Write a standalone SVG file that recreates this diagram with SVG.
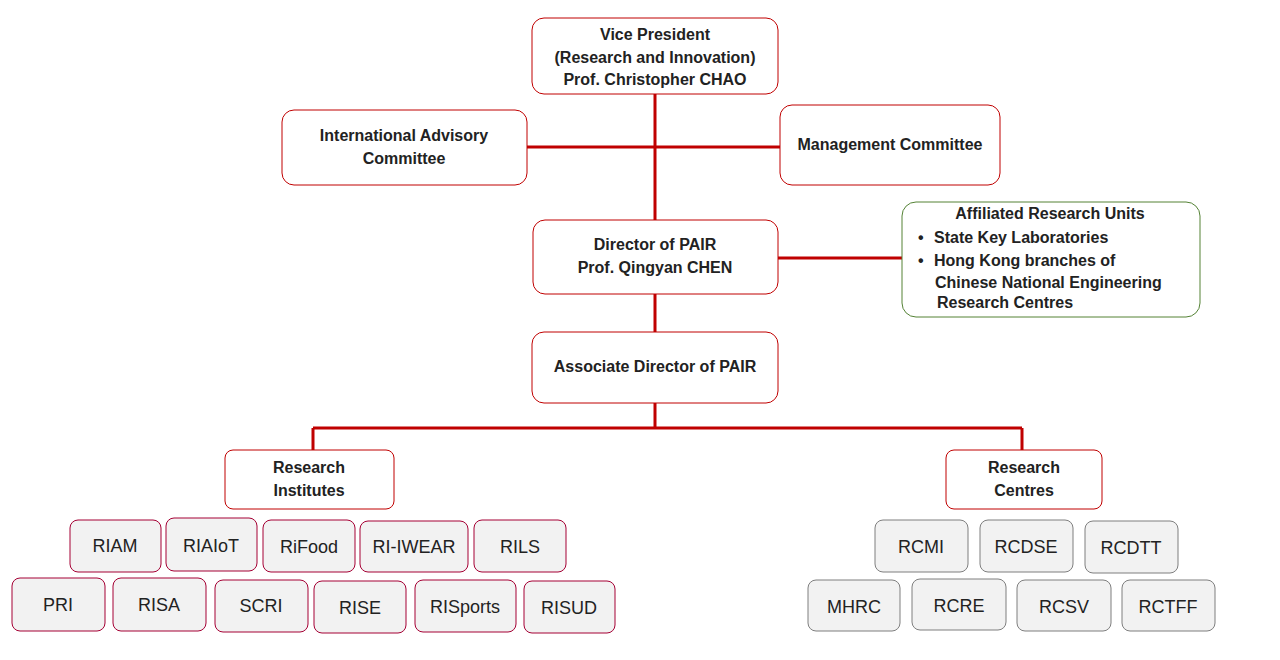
<svg xmlns="http://www.w3.org/2000/svg" width="1280" height="660" viewBox="0 0 1280 660">
<style>
text{font-family:"Liberation Sans",Arial,sans-serif;font-size:16px;fill:#222;text-anchor:middle}
.b{font-weight:bold}
.m{fill:#fff;stroke:#c00000;stroke-width:1}
.g{fill:#fff;stroke:#548235;stroke-width:1}
.ri{fill:#f2f2f2;stroke:#a50034;stroke-width:1}
.rc{fill:#f2f2f2;stroke:#7f7f7f;stroke-width:1}
.u{font-size:18px}
.l{text-anchor:start}
</style>
<rect width="1280" height="660" fill="#fff"/>
<g id="connectors" stroke="#c00000" stroke-width="3" fill="none">
<path d="M655 94V332M527 147H780M778 258H902M655 403V428M313 428H1022M313 428V450M1022 428V450"/>
</g>
<g id="vp"><rect class="m" x="532" y="18" width="246" height="76" rx="12"/><text class="b" x="655" y="40">Vice President</text><text class="b" x="655" y="63">(Research and Innovation)</text><text class="b" x="655" y="85">Prof. Christopher CHAO</text></g>
<g id="iac"><rect class="m" x="282" y="110" width="245" height="75" rx="12"/><text class="b" x="404" y="141">International Advisory</text><text class="b" x="404" y="164">Committee</text></g>
<g id="mc"><rect class="m" x="780" y="105" width="220" height="80" rx="12"/><text class="b" x="890" y="150">Management Committee</text></g>
<g id="dir"><rect class="m" x="533" y="220" width="245" height="74" rx="12"/><text class="b" x="655" y="250">Director of PAIR</text><text class="b" x="655" y="273">Prof. Qingyan CHEN</text></g>
<g id="aru"><rect class="g" x="902" y="202" width="298" height="115" rx="14"/><text class="b" x="1050" y="219">Affiliated Research Units</text><text class="b l" x="918" y="243">•</text><text class="b l" x="934" y="243">State Key Laboratories</text><text class="b l" x="918" y="266">•</text><text class="b l" x="934" y="266">Hong Kong branches of</text><text class="b l" x="935" y="288">Chinese National Engineering</text><text class="b l" x="937" y="308">Research Centres</text></g>
<g id="assoc"><rect class="m" x="532" y="332" width="246" height="71" rx="12"/><text class="b" x="655" y="372">Associate Director of PAIR</text></g>
<g id="ri"><rect class="m" x="225" y="450" width="169" height="59" rx="8"/><text class="b" x="309" y="473">Research</text><text class="b" x="309" y="496">Institutes</text></g>
<g id="rc"><rect class="m" x="946" y="450" width="156" height="59" rx="8"/><text class="b" x="1024" y="473">Research</text><text class="b" x="1024" y="496">Centres</text></g>
<g id="riam"><rect class="ri" x="70" y="520" width="91" height="52" rx="8"/><text class="u" x="115" y="552">RIAM</text></g>
<g id="riaiot"><rect class="ri" x="166" y="518" width="91" height="53" rx="8"/><text class="u" x="211" y="552">RIAIoT</text></g>
<g id="rifood"><rect class="ri" x="263" y="520" width="92" height="52" rx="8"/><text class="u" x="309" y="553">RiFood</text></g>
<g id="riiwear"><rect class="ri" x="360" y="521" width="108" height="51" rx="8"/><text class="u" x="414" y="553">RI-IWEAR</text></g>
<g id="rils"><rect class="ri" x="474" y="520" width="92" height="52" rx="8"/><text class="u" x="520" y="553">RILS</text></g>
<g id="pri"><rect class="ri" x="12" y="578" width="93" height="53" rx="8"/><text class="u" x="58" y="611">PRI</text></g>
<g id="risa"><rect class="ri" x="113" y="578" width="93" height="53" rx="8"/><text class="u" x="159" y="611">RISA</text></g>
<g id="scri"><rect class="ri" x="215" y="580" width="93" height="52" rx="8"/><text class="u" x="261" y="612">SCRI</text></g>
<g id="rise"><rect class="ri" x="314" y="581" width="92" height="52" rx="8"/><text class="u" x="360" y="614">RISE</text></g>
<g id="risports"><rect class="ri" x="415" y="580" width="101" height="52" rx="8"/><text class="u" x="465" y="613">RISports</text></g>
<g id="risud"><rect class="ri" x="524" y="581" width="91" height="52" rx="8"/><text class="u" x="569" y="614">RISUD</text></g>
<g id="rcmi"><rect class="rc" x="875" y="520" width="93" height="52" rx="8"/><text class="u" x="921" y="553">RCMI</text></g>
<g id="rcdse"><rect class="rc" x="980" y="520" width="93" height="52" rx="8"/><text class="u" x="1026" y="553">RCDSE</text></g>
<g id="rcdtt"><rect class="rc" x="1085" y="521" width="93" height="52" rx="8"/><text class="u" x="1131" y="554">RCDTT</text></g>
<g id="mhrc"><rect class="rc" x="808" y="580" width="92" height="51" rx="8"/><text class="u" x="854" y="613">MHRC</text></g>
<g id="rcre"><rect class="rc" x="912" y="579" width="94" height="51" rx="8"/><text class="u" x="959" y="612">RCRE</text></g>
<g id="rcsv"><rect class="rc" x="1017" y="580" width="94" height="51" rx="8"/><text class="u" x="1064" y="613">RCSV</text></g>
<g id="rctff"><rect class="rc" x="1122" y="580" width="93" height="51" rx="8"/><text class="u" x="1168" y="613">RCTFF</text></g>
</svg>
